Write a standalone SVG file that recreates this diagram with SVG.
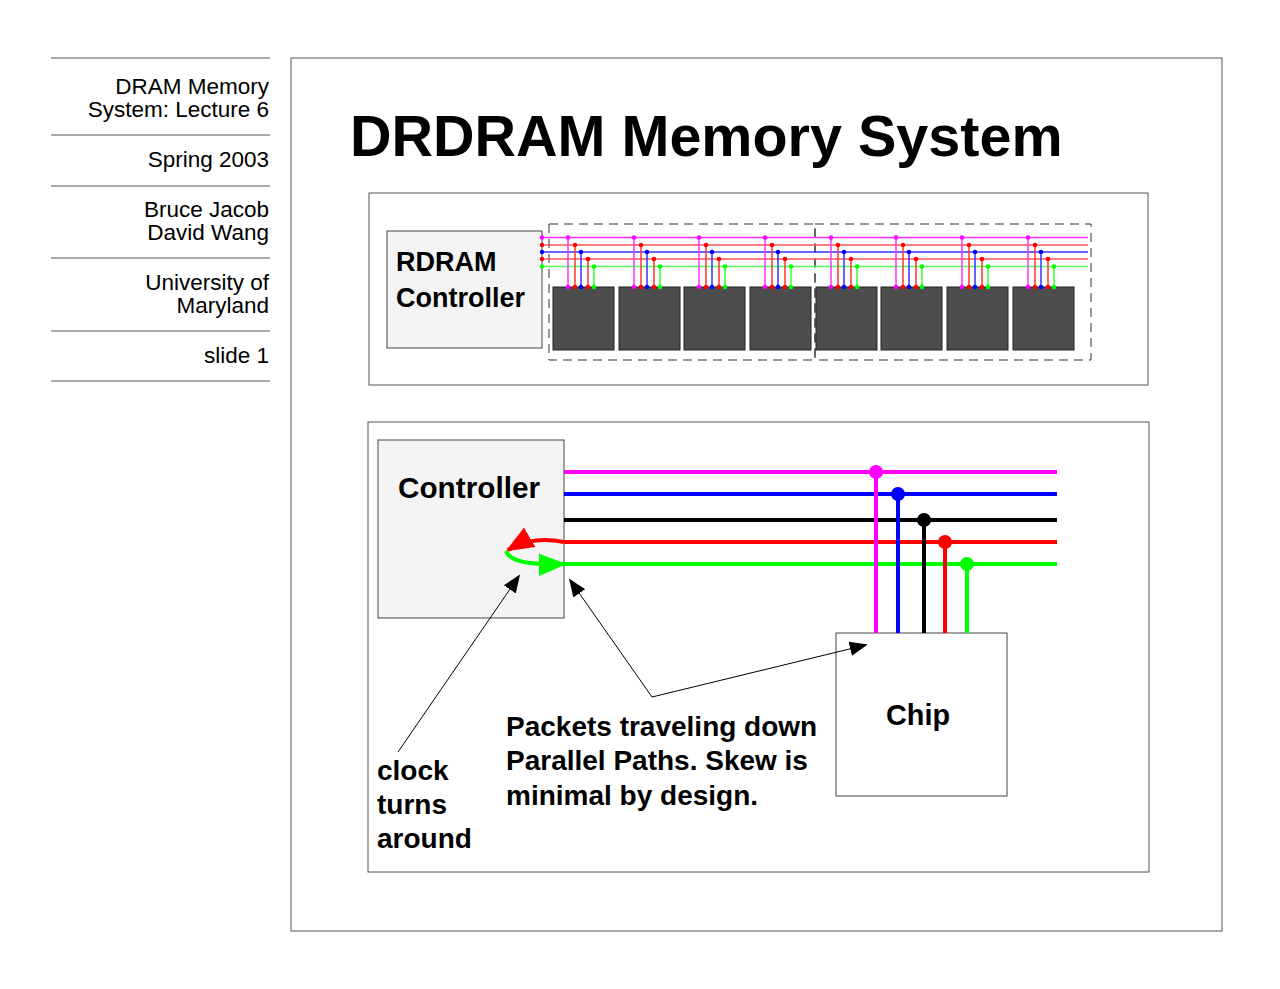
<svg xmlns="http://www.w3.org/2000/svg" width="1280" height="989" viewBox="0 0 1280 989">
<style>
.side{font-family:"Liberation Sans",Arial,sans-serif;font-size:22.5px;fill:#000;text-anchor:end}
.sep{stroke:#555;stroke-width:1}
.frame{fill:#fff;stroke:#555;stroke-width:1}
.chip{fill:#4d4d4d;stroke:#222;stroke-width:1}
.b{font-family:"Liberation Sans",Arial,sans-serif;font-weight:bold;fill:#000}
</style>
<defs>
<marker id="ahb" viewBox="0 0 10 10" refX="9" refY="5" markerWidth="18" markerHeight="18" orient="auto" markerUnits="userSpaceOnUse"><path d="M0,1 L10,5 L0,9 Z" fill="#000"/></marker>
<marker id="ar" viewBox="0 0 10 10" refX="9" refY="5" markerWidth="28" markerHeight="28" orient="auto" markerUnits="userSpaceOnUse"><path d="M0,1 L10,5 L0,9 Z" fill="#f00"/></marker>
<marker id="ag" viewBox="0 0 10 10" refX="9" refY="5" markerWidth="28" markerHeight="28" orient="auto" markerUnits="userSpaceOnUse"><path d="M0,1 L10,5 L0,9 Z" fill="#0f0"/></marker>
</defs>
<rect width="1280" height="989" fill="#fff"/>
<g id="sidebar">
<line class="sep" x1="51" y1="58" x2="270" y2="58"/>
<text class="side" x="269" y="94">DRAM Memory</text>
<text class="side" x="269" y="117">System: Lecture 6</text>
<line class="sep" x1="51" y1="135" x2="270" y2="135"/>
<text class="side" x="269" y="167">Spring 2003</text>
<line class="sep" x1="51" y1="186" x2="270" y2="186"/>
<text class="side" x="269" y="217">Bruce Jacob</text>
<text class="side" x="269" y="240">David Wang</text>
<line class="sep" x1="51" y1="258" x2="270" y2="258"/>
<text class="side" x="269" y="290">University of</text>
<text class="side" x="269" y="313">Maryland</text>
<line class="sep" x1="51" y1="331" x2="270" y2="331"/>
<text class="side" x="269" y="363">slide 1</text>
<line class="sep" x1="51" y1="381" x2="270" y2="381"/>
</g>
<rect class="frame" x="291" y="58" width="931" height="873"/>
<text class="b" x="350" y="156" font-size="57.5">DRDRAM Memory System</text>

<g id="top-panel">
<rect class="frame" x="369" y="193" width="779" height="192"/>
<g id="rdram-controller"><rect x="387" y="231" width="155" height="117" fill="#f4f4f4" stroke="#444"/>
<text class="b" x="396" y="271" font-size="27">RDRAM</text>
<text class="b" x="396" y="307" font-size="27">Controller</text></g>
<rect x="549" y="224" width="266" height="136" fill="none" stroke="#333" stroke-dasharray="9,6"/>
<rect x="815" y="224" width="276" height="136" fill="none" stroke="#333" stroke-dasharray="9,6"/>
<g id="chips">
<rect class="chip" x="553" y="287" width="61" height="63"/>
<rect class="chip" x="619" y="287" width="61" height="63"/>
<rect class="chip" x="684" y="287" width="61" height="63"/>
<rect class="chip" x="750" y="287" width="61" height="63"/>
<rect class="chip" x="816" y="287" width="61" height="63"/>
<rect class="chip" x="881" y="287" width="61" height="63"/>
<rect class="chip" x="947" y="287" width="61" height="63"/>
<rect class="chip" x="1013" y="287" width="61" height="63"/>
</g>
<g id="bus" stroke-width="1.5">
<line x1="542" y1="237.5" x2="1088" y2="237.5" stroke="#f3f"/>
<line x1="542" y1="245" x2="1088" y2="245" stroke="#f55"/>
<line x1="542" y1="252" x2="1088" y2="252" stroke="#33f"/>
<line x1="542" y1="259" x2="1088" y2="259" stroke="#f55"/>
<line x1="542" y1="266.5" x2="1088" y2="266.5" stroke="#5f5"/>
<circle cx="542" cy="237.5" r="2.2" fill="#f0f"/><circle cx="542" cy="245" r="2.2" fill="#f00"/><circle cx="542" cy="252" r="2.2" fill="#00f"/><circle cx="542" cy="259" r="2.2" fill="#f00"/><circle cx="542" cy="266.5" r="2.2" fill="#0f0"/>
</g>
<g id="drops">
<g id="d1" transform="translate(553,0)">
<line x1="15" y1="237.5" x2="15" y2="287" stroke="#f3f" stroke-width="1.5"/><line x1="22" y1="245" x2="22" y2="287" stroke="#f33" stroke-width="1.5"/><line x1="28" y1="252" x2="28" y2="287" stroke="#33f" stroke-width="1.5"/><line x1="35" y1="259" x2="35" y2="287" stroke="#f33" stroke-width="1.5"/><line x1="41" y1="266.5" x2="41" y2="287" stroke="#3f3" stroke-width="1.5"/>
<circle cx="15" cy="237.5" r="2.3" fill="#f0f"/><circle cx="22" cy="245" r="2.3" fill="#f00"/><circle cx="28" cy="252" r="2.3" fill="#00f"/><circle cx="35" cy="259" r="2.3" fill="#f00"/><circle cx="41" cy="266.5" r="2.3" fill="#0f0"/>
<circle cx="15" cy="287" r="2.3" fill="#f0f"/><circle cx="22" cy="287" r="2.3" fill="#f00"/><circle cx="28" cy="287" r="2.3" fill="#00f"/><circle cx="35" cy="287" r="2.3" fill="#f00"/><circle cx="41" cy="287" r="2.3" fill="#0f0"/>
</g>
<use href="#d1" transform="translate(66,0)"/>
<use href="#d1" transform="translate(131,0)"/>
<use href="#d1" transform="translate(197,0)"/>
<use href="#d1" transform="translate(263,0)"/>
<use href="#d1" transform="translate(328,0)"/>
<use href="#d1" transform="translate(394,0)"/>
<use href="#d1" transform="translate(460,0)"/>
</g>
</g>

<g id="bottom-panel">
<rect class="frame" x="368" y="422" width="781" height="450"/>
<g id="controller"><rect x="378" y="440" width="186" height="178" fill="#f4f4f4" stroke="#444"/>
<text class="b" x="398" y="498" font-size="30" textLength="142" lengthAdjust="spacingAndGlyphs">Controller</text></g>
<g id="chip"><rect x="836" y="633" width="171" height="163" fill="#fff" stroke="#444"/>
<text class="b" x="886" y="725" font-size="30" textLength="64" lengthAdjust="spacingAndGlyphs">Chip</text></g>
<g id="connectors" stroke-width="4" fill="none">
<line x1="564" y1="472" x2="1057" y2="472" stroke="#f0f"/>
<line x1="564" y1="494" x2="1057" y2="494" stroke="#00f"/>
<line x1="564" y1="520" x2="1057" y2="520" stroke="#000"/>
<line x1="564" y1="542" x2="1057" y2="542" stroke="#f00"/>
<line x1="564" y1="564" x2="1057" y2="564" stroke="#0f0"/>
<line x1="876" y1="472" x2="876" y2="633" stroke="#f0f"/>
<line x1="898" y1="494" x2="898" y2="633" stroke="#00f"/>
<line x1="924" y1="520" x2="924" y2="633" stroke="#000"/>
<line x1="945" y1="542" x2="945" y2="633" stroke="#f00"/>
<line x1="967" y1="564" x2="967" y2="633" stroke="#0f0"/>
<circle cx="876" cy="472" r="7" fill="#f0f" stroke="none"/>
<circle cx="898" cy="494" r="7" fill="#00f" stroke="none"/>
<circle cx="924" cy="520" r="7" fill="#000" stroke="none"/>
<circle cx="945" cy="542" r="7" fill="#f00" stroke="none"/>
<circle cx="967" cy="564" r="7" fill="#0f0" stroke="none"/>
<path d="M564,542 C545,538 525,540 508,550" stroke="#f00" marker-end="url(#ar)"/>
<path d="M506,551 C510,562 530,565 564,564" stroke="#0f0" marker-end="url(#ag)"/>
<g stroke="#000" stroke-width="1">
<line x1="398" y1="752" x2="519" y2="576" marker-end="url(#ahb)"/>
<line x1="652" y1="697" x2="570" y2="580" marker-end="url(#ahb)"/>
<line x1="652" y1="697" x2="866" y2="645" marker-end="url(#ahb)"/>
</g>
</g>
<text class="b" x="377" y="780" font-size="28">clock</text>
<text class="b" x="377" y="814" font-size="28">turns</text>
<text class="b" x="377" y="848" font-size="28">around</text>
<text class="b" x="506" y="736" font-size="28">Packets traveling down</text>
<text class="b" x="506" y="770" font-size="28">Parallel Paths. Skew is</text>
<text class="b" x="506" y="805" font-size="28">minimal by design.</text>
</g>
</svg>
